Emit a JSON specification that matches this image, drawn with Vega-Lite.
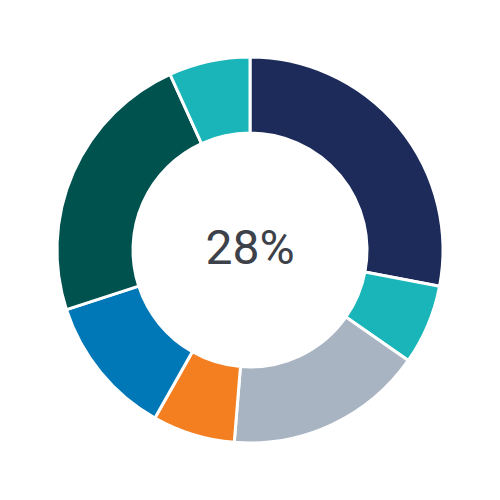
{
  "$schema": "https://vega.github.io/schema/vega-lite/v6.json",
  "width": 500,
  "height": 500,
  "autosize": {"type": "fit", "contains": "padding"},
  "padding": 0,
  "data": {
    "values": [
      {"segment": "A", "order": 1, "share": 28.0},
      {"segment": "B", "order": 2, "share": 6.7},
      {"segment": "C", "order": 3, "share": 16.6},
      {"segment": "D", "order": 4, "share": 6.9},
      {"segment": "E", "order": 5, "share": 11.8},
      {"segment": "F", "order": 6, "share": 23.2},
      {"segment": "G", "order": 7, "share": 6.8}
    ]
  },
  "layer": [
    {
      "mark": {"type": "arc", "outerRadius": 193, "innerRadius": 117, "stroke": "white", "strokeWidth": 3},
      "encoding": {
        "theta": {"field": "share", "type": "quantitative", "stack": true},
        "order": {"field": "order", "type": "quantitative"},
        "color": {
          "field": "segment",
          "type": "nominal",
          "legend": null,
          "scale": {
            "domain": ["A", "B", "C", "D", "E", "F", "G"],
            "range": ["#1c2b5a", "#1ab5b8", "#a9b4c2", "#f47f20", "#0077b6", "#00524f", "#1ab5b8"]
          }
        }
      }
    },
    {
      "data": {"values": [{"label": "28%"}]},
      "mark": {"type": "text", "font": "Roboto", "fontSize": 48, "color": "#3d4149", "baseline": "middle", "align": "center"},
      "encoding": {"text": {"field": "label"}}
    }
  ],
  "config": {"view": {"stroke": null}}
}
